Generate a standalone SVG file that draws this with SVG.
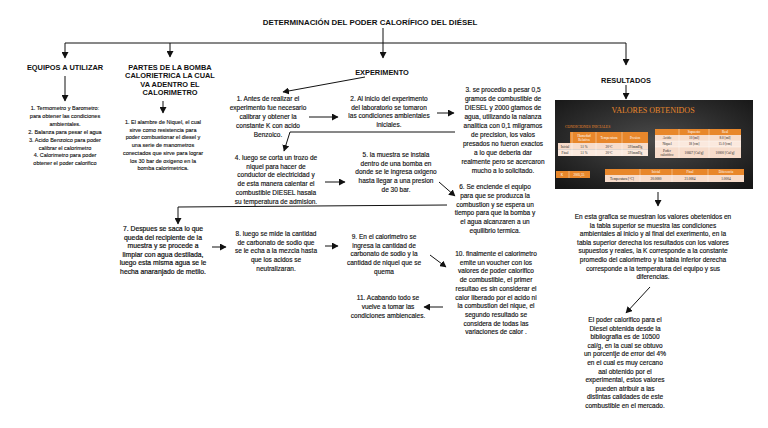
<svg xmlns="http://www.w3.org/2000/svg" width="768" height="428" viewBox="0 0 768 428">
<defs>
<marker id="ah" markerWidth="7" markerHeight="7" refX="6" refY="3.5" orient="auto" markerUnits="userSpaceOnUse"><path d="M0,0 L6.5,3.5 L0,7 z" fill="#111"/></marker>
<radialGradient id="bg" cx="0.5" cy="0.45" r="0.7"><stop offset="0" stop-color="#4a4a4a"/><stop offset="1" stop-color="#161616"/></radialGradient>
<style>
text{font-family:"Liberation Sans",Arial,sans-serif;fill:#111;text-anchor:middle}
.h{font-weight:bold;font-size:7.4px}
.s{font-size:6.5px;stroke:#111;stroke-width:0.15}
.e{font-size:5.5px;stroke:#111;stroke-width:0.12}
.c{stroke:#111;stroke-width:1;fill:none}
.a{marker-end:url(#ah)}
.or{fill:#e8872b}
.pk{fill:#f7dccb}
.tt{font-family:"Liberation Serif",serif;font-size:3.4px;fill:#222}
.tw{font-family:"Liberation Serif",serif;font-size:3.4px;fill:#fff}
</style>
</defs>
<rect width="768" height="428" fill="#fff"/>

<g id="connectors">
<line class="c" x1="65" y1="43" x2="626" y2="43" stroke="#555" stroke-width="1.3"/>
<line class="c a" x1="383" y1="28" x2="383" y2="58"/>
<line class="c a" x1="65" y1="43" x2="65" y2="58"/>
<line class="c a" x1="170" y1="43" x2="170" y2="57"/>
<line class="c a" x1="626" y1="43" x2="626" y2="65"/>
<line class="c a" x1="65" y1="76" x2="65" y2="101"/>
<line class="c a" x1="163" y1="101" x2="163" y2="113"/>
<line class="c a" x1="365" y1="77" x2="283" y2="92"/>
<line class="c a" x1="309" y1="117" x2="338" y2="117"/>
<line class="c a" x1="437" y1="113" x2="454" y2="113"/>
<polyline class="c a" points="455,132 290,132 284,151"/>
<line class="c a" x1="325" y1="182" x2="345" y2="182"/>
<line class="c a" x1="439" y1="182" x2="455" y2="196"/>
<polyline class="c a" points="447,205 178,207 178,224"/>
<line class="c a" x1="212" y1="247" x2="226" y2="247"/>
<line class="c a" x1="325" y1="246" x2="338" y2="246"/>
<line class="c a" x1="430" y1="255" x2="446" y2="267"/>
<line class="c a" x1="443" y1="307" x2="424" y2="307"/>
<line class="c a" x1="626" y1="85" x2="626" y2="99"/>
<line class="c a" x1="658" y1="192" x2="658" y2="206"/>
<line class="c a" x1="650" y1="287" x2="626" y2="313"/>
</g>

<g id="title"><text class="h" x="370" y="25" style="font-size:7.9px">DETERMINACIÓN DEL PODER CALORÍFICO DEL DIÉSEL</text></g>

<g id="equipos">
<text class="h" x="65" y="70">EQUIPOS A UTILIZAR</text>
<text class="e" x="65" y="110"><tspan x="65">1. Termometro y Barometro:</tspan><tspan x="65" dy="8.2">para obtener las condiciones</tspan><tspan x="65" dy="8.2">ambientales.</tspan><tspan x="65" dy="7.8">2. Balanza para pesar el agua</tspan><tspan x="65" dy="7.8">3. Acido Benzoico para poder</tspan><tspan x="65" dy="7.6">calibrar el calorimetro</tspan><tspan x="65" dy="7.8">4. Calorimetro para poder</tspan><tspan x="65" dy="7.8">obtener el poder calorifico</tspan></text>
</g>

<g id="partes">
<text class="h" x="170" y="70"><tspan x="170">PARTES DE LA BOMBA</tspan><tspan x="170" dy="8.3">CALORIETRICA LA CUAL</tspan><tspan x="170" dy="8.3">VA ADENTRO EL</tspan><tspan x="170" dy="8.3">CALORIMETRO</tspan></text>
<text class="e" x="163" y="124"><tspan x="163">1. El alambre de Niquel, el cual</tspan><tspan x="163" dy="7.7">sirve como resistencia para</tspan><tspan x="163" dy="7.7">poder combustionar el diesel y</tspan><tspan x="163" dy="7.7">una serie de manometros</tspan><tspan x="163" dy="7.7">conectados que sirve para lograr</tspan><tspan x="163" dy="7.7">los 30 bar de oxigeno en la</tspan><tspan x="163" dy="7.7">bomba calorimetrica.</tspan></text>
</g>

<g id="experimento"><text class="h" x="382" y="75">EXPERIMENTO</text></g>

<g id="paso1"><text class="s" x="268" y="101"><tspan x="268">1. Antes de realizar el</tspan><tspan x="268" dy="9">experimento fue necesario</tspan><tspan x="268" dy="9">calibrar y obtener la</tspan><tspan x="268" dy="9">constante K con acido</tspan><tspan x="268" dy="9">Benzoico.</tspan></text></g>

<g id="paso2"><text class="s" x="389" y="101"><tspan x="389">2. Al inicio del experimento</tspan><tspan x="389" dy="8.7">del laboratorio se tomaron</tspan><tspan x="389" dy="8.7">las condiciones ambientales</tspan><tspan x="389" dy="8.7">iniciales.</tspan></text></g>

<g id="paso3"><text class="s" x="503" y="92"><tspan x="503">3. se procedio a pesar 0,5</tspan><tspan x="503" dy="9">gramos de combustible de</tspan><tspan x="503" dy="9">DIESEL y 2000 gtamos de</tspan><tspan x="503" dy="9">agua, utilizando la nalanza</tspan><tspan x="503" dy="9">analitica con 0,1 milgramos</tspan><tspan x="503" dy="9">de precision, los valos</tspan><tspan x="503" dy="9">presados no fueron exactos</tspan><tspan x="503" dy="9">a lo que deberia dar</tspan><tspan x="503" dy="9">realmente pero se acercaron</tspan><tspan x="503" dy="9">mucho a lo solicitado.</tspan></text></g>

<g id="paso4"><text class="s" x="276" y="160"><tspan x="276">4. luego se corta un trozo de</tspan><tspan x="276" dy="8.7">niquel para hacer de</tspan><tspan x="276" dy="8.7">conductor de electricidad y</tspan><tspan x="276" dy="8.7">de esta manera calentar el</tspan><tspan x="276" dy="8.7">combustible DIESEL hasala</tspan><tspan x="276" dy="8.7">su temperatura de admision.</tspan></text></g>

<g id="paso5"><text class="s" x="396" y="157"><tspan x="396">5. la muestra se instala</tspan><tspan x="396" dy="8.7">dentro de una bomba en</tspan><tspan x="396" dy="8.7">donde se le ingresa oxigeno</tspan><tspan x="396" dy="8.7">hasta llegar a una presion</tspan><tspan x="396" dy="8.7">de 30 bar.</tspan></text></g>

<g id="paso6"><text class="s" x="495" y="189"><tspan x="495">6. Se enciende el equipo</tspan><tspan x="495" dy="8.8">para que se produzca la</tspan><tspan x="495" dy="8.8">combustion y se espera un</tspan><tspan x="495" dy="8.8">tiempo para que la bomba y</tspan><tspan x="495" dy="8.8">el agua alcanzaren a un</tspan><tspan x="495" dy="8.8">equilibrio termica.</tspan></text></g>

<g id="paso7"><text class="s" x="163" y="231" style="font-size:6.8px;stroke-width:0.2"><tspan x="163">7. Despues se saca lo que</tspan><tspan x="163" dy="8.5">queda del recipiente de la</tspan><tspan x="163" dy="8.5">muestra y se procede a</tspan><tspan x="163" dy="8.5">limpiar con agua destilada,</tspan><tspan x="163" dy="8.5">luego esta misma agua se le</tspan><tspan x="163" dy="8.5">hecha anaranjado de metilo.</tspan></text></g>

<g id="paso8"><text class="s" x="276" y="236"><tspan x="276">8. luego se mide la cantidad</tspan><tspan x="276" dy="8.7">de carbonato de sodio que</tspan><tspan x="276" dy="8.7">se le echa a la mezcla hasta</tspan><tspan x="276" dy="8.7">que los acidos se</tspan><tspan x="276" dy="8.7">neutralizaran.</tspan></text></g>

<g id="paso9"><text class="s" x="384" y="239"><tspan x="384">9. En el calorimetro se</tspan><tspan x="384" dy="8.7">ingresa la cantidad de</tspan><tspan x="384" dy="8.7">carbonato de sodio y la</tspan><tspan x="384" dy="8.7">cantidad de niquel que se</tspan><tspan x="384" dy="8.7">quema</tspan></text></g>

<g id="paso10"><text class="s" x="496" y="256"><tspan x="496">10. finalmente el calorimetro</tspan><tspan x="496" dy="8.7">emite un voucher con los</tspan><tspan x="496" dy="8.7">valores de poder calorifico</tspan><tspan x="496" dy="8.7">de combustible, el primer</tspan><tspan x="496" dy="8.7">resultao es sin considerar el</tspan><tspan x="496" dy="8.7">calor liberado por el acido ni</tspan><tspan x="496" dy="8.7">la combustion del nique, el</tspan><tspan x="496" dy="8.7">segundo resultado se</tspan><tspan x="496" dy="8.7">considera de todas las</tspan><tspan x="496" dy="8.7">variaciones de calor .</tspan></text></g>

<g id="paso11"><text class="s" x="388" y="300"><tspan x="388">11. Acabando todo se</tspan><tspan x="388" dy="8.8">vuelve  a tomar las</tspan><tspan x="388" dy="8.8">condiciones ambiencales.</tspan></text></g>

<g id="resultados"><text class="h" x="626" y="83">RESULTADOS</text></g>

<g id="tabla">
<rect x="555" y="100" width="198" height="89" fill="url(#bg)"/>
<text x="653" y="113" style="font-family:'Liberation Serif',serif;font-size:8px;fill:#e8872b">VALORES OBTENIDOS</text>
<text x="565" y="128" style="font-family:'Liberation Serif',serif;font-size:3.8px;fill:#e8872b;text-anchor:start">CONDICIONES INICIALES</text>
<rect class="or" x="570" y="132" width="78" height="11"/>
<rect class="pk" x="558" y="143" width="90" height="6.5"/>
<rect x="558" y="149.5" width="90" height="6.5" fill="#fbe9de"/>
<g stroke="#fff" stroke-width="0.4"><line x1="572" y1="132" x2="572" y2="156"/><line x1="596" y1="132" x2="596" y2="156"/><line x1="622" y1="132" x2="622" y2="156"/><line x1="558" y1="149.5" x2="648" y2="149.5"/></g>
<text class="tw" x="584" y="137">Humedad</text><text class="tw" x="584" y="141">Relativa</text>
<text class="tw" x="609" y="139">Temperatura</text><text class="tw" x="635" y="139">Presion</text>
<text class="tt" x="565" y="147.5">Inicial</text><text class="tt" x="584" y="147.5">51 %</text><text class="tt" x="609" y="147.5">20°C</text><text class="tt" x="635" y="147.5">591mmHg</text>
<text class="tt" x="565" y="154">Final</text><text class="tt" x="584" y="154">51 %</text><text class="tt" x="609" y="154">20°C</text><text class="tt" x="635" y="154">591mmHg</text>
<rect class="or" x="655" y="129" width="86" height="6"/>
<rect class="pk" x="655" y="135" width="86" height="6"/>
<rect x="655" y="141" width="86" height="6" fill="#fbe9de"/>
<rect class="pk" x="655" y="147" width="86" height="11"/>
<g stroke="#fff" stroke-width="0.4"><line x1="679" y1="129" x2="679" y2="158"/><line x1="709" y1="129" x2="709" y2="158"/><line x1="655" y1="141" x2="741" y2="141"/><line x1="655" y1="147" x2="741" y2="147"/></g>
<text class="tw" x="694" y="133.3">Supuesto</text><text class="tw" x="725" y="133.3">Real</text>
<text class="tt" x="667" y="139.3">Acido</text><text class="tt" x="694" y="139.3">10 [ml]</text><text class="tt" x="725" y="139.3">8.0 [ml]</text>
<text class="tt" x="667" y="145.3">Niquel</text><text class="tt" x="694" y="145.3">18 [cm]</text><text class="tt" x="725" y="145.3">15.0 [cm]</text>
<text class="tt" x="667" y="151.8">Poder</text><text class="tt" x="667" y="155.6">calorifico</text><text class="tt" x="694" y="153.8">10667 [Cal/g]</text><text class="tt" x="725" y="153.8">10000 [Cal/g]</text>
<rect class="or" x="556" y="171" width="34" height="7"/>
<line x1="569" y1="171" x2="569" y2="178" stroke="#fff" stroke-width="0.4"/>
<text class="tw" x="562" y="175.8">K</text><text class="tw" x="579" y="175.8">2005,35</text>
<rect class="or" x="605" y="169" width="139" height="6"/>
<rect class="pk" x="605" y="175" width="139" height="7"/>
<g stroke="#fff" stroke-width="0.4"><line x1="640" y1="169" x2="640" y2="182"/><line x1="672" y1="169" x2="672" y2="182"/><line x1="708" y1="169" x2="708" y2="182"/></g>
<text class="tw" x="656" y="173.3">Inicial</text><text class="tw" x="690" y="173.3">Final</text><text class="tw" x="726" y="173.3">Diferencia</text>
<text class="tt" x="622" y="179.6">Temperatura [°C]</text><text class="tt" x="656" y="179.6">20.0000</text><text class="tt" x="690" y="179.6">21.0004</text><text class="tt" x="726" y="179.6">1.0004</text>
</g>

<g id="explicacion"><text class="s" x="653" y="219"><tspan x="653">En esta grafica se muestran los valores obetenidos en</tspan><tspan x="653" dy="8.6">la tabla superior se muestra las condiciones</tspan><tspan x="653" dy="8.6">ambientales al inicio y al final del exerimento, en la</tspan><tspan x="653" dy="8.6">tabla superior derecha los resultados con los valores</tspan><tspan x="653" dy="8.6">supuestos y reales, la K corresponde a la constante</tspan><tspan x="653" dy="8.6">promedio del calorimetro y la tabla inferior derecha</tspan><tspan x="653" dy="8.6">corresponde a la temperatura del equipo y sus</tspan><tspan x="653" dy="8.6">diferencias.</tspan></text></g>

<g id="conclusion"><text class="s" x="625" y="322"><tspan x="625">El poder calorifico para el</tspan><tspan x="625" dy="8.6">Diesel obtenida desde la</tspan><tspan x="625" dy="8.6">bibliografia es de 10500</tspan><tspan x="625" dy="8.6">cal/g, en la cual se obtuvo</tspan><tspan x="625" dy="8.6">un porcentje de error del 4%</tspan><tspan x="625" dy="8.6">en el cual es muy cercano</tspan><tspan x="625" dy="8.6">aal obtenido por el</tspan><tspan x="625" dy="8.6">experimental, estos valores</tspan><tspan x="625" dy="8.6">pueden atribuir a las</tspan><tspan x="625" dy="8.6">distintas calidades de este</tspan><tspan x="625" dy="8.6">combustible en el mercado.</tspan></text></g>
</svg>
